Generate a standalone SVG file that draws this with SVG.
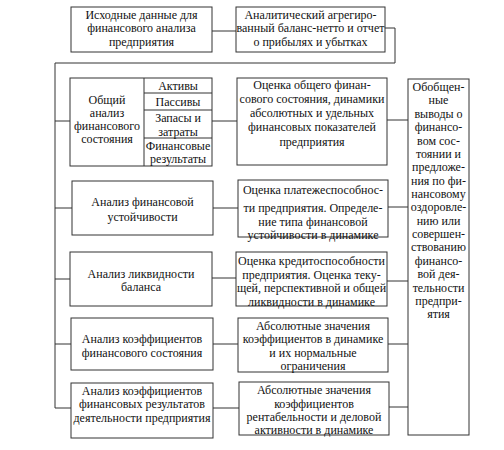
<svg xmlns="http://www.w3.org/2000/svg" width="504" height="450" viewBox="0 0 504 450">
<style>
rect{fill:#fff;stroke:#333;stroke-width:1}
line,polyline{stroke:#333;stroke-width:1;fill:none}
text{font-family:"Liberation Serif","Times New Roman",serif;font-size:12px;fill:#111;text-anchor:middle}
</style>
<rect x="0" y="0" width="504" height="450" style="stroke:none"/>
<g id="connectors">
<line x1="212" y1="31" x2="236" y2="31"/>
<polyline points="385,28 395,28 395,63 55,63 55,408 71,408"/>
<line x1="55" y1="121" x2="70" y2="121"/>
<line x1="55" y1="208" x2="72" y2="208"/>
<line x1="55" y1="279" x2="70" y2="279"/>
<line x1="55" y1="344" x2="71" y2="344"/>
<line x1="212" y1="121" x2="237" y2="121"/>
<line x1="213" y1="208" x2="238" y2="208"/>
<line x1="212" y1="278" x2="236" y2="278"/>
<line x1="213" y1="344" x2="238" y2="344"/>
<line x1="213" y1="408" x2="239" y2="408"/>
<line x1="387" y1="120" x2="408" y2="120"/>
<line x1="388" y1="207" x2="408" y2="207"/>
<line x1="387" y1="281" x2="408" y2="281"/>
<line x1="388" y1="344" x2="408" y2="344"/>
<line x1="389" y1="407" x2="408" y2="407"/>
</g>
<g id="n1"><rect x="71" y="7" width="141" height="45"/>
<text x="141.5" y="19">Исходные данные для</text><text x="141.5" y="32">финансового анализа</text><text x="141.5" y="46">предприятия</text></g>
<g id="n2"><rect x="236" y="7" width="149" height="45"/>
<text x="310.5" y="19">Аналитический агрегиро-</text><text x="310.5" y="32">ванный баланс-нетто и отчет</text><text x="310.5" y="46">о прибылях и убытках</text></g>
<g id="n3"><rect x="70" y="78" width="142" height="88"/>
<line x1="144" y1="78" x2="144" y2="166"/><line x1="144" y1="93" x2="212" y2="93"/><line x1="144" y1="110" x2="212" y2="110"/><line x1="144" y1="138" x2="212" y2="138"/>
<text x="107" y="104">Общий</text><text x="107" y="117">анализ</text><text x="107" y="130">финансового</text><text x="107" y="143">состояния</text>
<text x="178" y="90">Активы</text><text x="178" y="106">Пассивы</text><text x="178" y="122">Запасы и</text><text x="178" y="136">затраты</text><text x="178" y="150">Финансовые</text><text x="178" y="163">результаты</text></g>
<g id="n4"><rect x="237" y="78" width="150" height="87"/>
<text x="312" y="89">Оценка общего финан-</text><text x="312" y="103">сового состояния, динамики</text><text x="312" y="117">абсолютных и удельных</text><text x="312" y="131">финансовых показателей</text><text x="312" y="146">предприятия</text></g>
<g id="n5"><rect x="72" y="181" width="141" height="54"/>
<text x="142.5" y="206">Анализ финансовой</text><text x="142.5" y="221">устойчивости</text></g>
<g id="n6"><rect x="238" y="180" width="150" height="57"/>
<text x="313" y="194">Оценка платежеспособнос-</text><text x="313" y="212">ти предприятия. Определе-</text><text x="313" y="226">ние типа финансовой</text><text x="313" y="239">устойчивости в динамике</text></g>
<g id="n7"><rect x="70" y="252" width="142" height="54"/>
<text x="141" y="278">Анализ ликвидности</text><text x="141" y="291">баланса</text></g>
<g id="n8"><rect x="236" y="252" width="151" height="54"/>
<text x="311.5" y="265">Оценка кредитоспособности</text><text x="311.5" y="279">предприятия. Оценка теку-</text><text x="311.5" y="292">щей, перспективной и общей</text><text x="311.5" y="306">ликвидности в динамике</text></g>
<g id="n9"><rect x="71" y="318" width="142" height="52"/>
<text x="142" y="343">Анализ коэффициентов</text><text x="142" y="357">финансового состояния</text></g>
<g id="n10"><rect x="238" y="318" width="150" height="54"/>
<text x="313" y="330">Абсолютные значения</text><text x="313" y="343">коэффициентов в динамике</text><text x="313" y="357">и их нормальные</text><text x="313" y="370">ограничения</text></g>
<g id="n11"><rect x="71" y="383" width="142" height="55"/>
<text x="142" y="395">Анализ коэффициентов</text><text x="142" y="408">финансовых результатов</text><text x="142" y="422">деятельности предприятия</text></g>
<g id="n12"><rect x="239" y="382" width="150" height="53"/>
<text x="314" y="394">Абсолютные значения</text><text x="314" y="408">коэффициентов</text><text x="314" y="421">рентабельности и деловой</text><text x="314" y="434">активности в динамике</text></g>
<g id="n13"><rect x="408" y="79" width="61" height="356"/>
<text x="438.5" y="91">Обобщен-</text><text x="438.5" y="104.4">ные</text><text x="438.5" y="117.7">выводы о</text><text x="438.5" y="131.1">финансо-</text><text x="438.5" y="144.5">вом сос-</text><text x="438.5" y="157.9">тоянии и</text><text x="438.5" y="171.2">предложе-</text><text x="438.5" y="184.6">ния по фи-</text><text x="438.5" y="198">нансовому</text><text x="438.5" y="211.3">оздоровле-</text><text x="438.5" y="224.7">нию или</text><text x="438.5" y="238.1">совершен-</text><text x="438.5" y="251.4">ствованию</text><text x="438.5" y="264.8">финансо-</text><text x="438.5" y="278.2">вой дея-</text><text x="438.5" y="291.6">тельности</text><text x="438.5" y="304.9">предпри-</text><text x="438.5" y="318.3">ятия</text></g>
</svg>
